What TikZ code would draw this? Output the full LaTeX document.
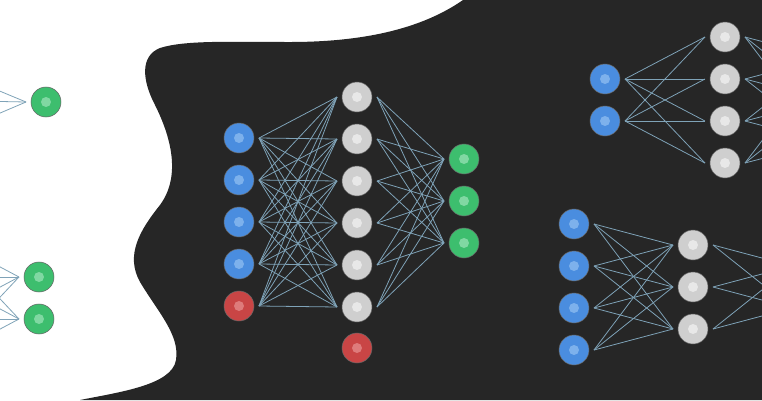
\documentclass[tikz,border=0pt]{standalone}
\usetikzlibrary{calc}
\pgfdeclarelayer{back}\pgfdeclarelayer{edge}
\pgfsetlayers{back,edge,main}
\definecolor{dk}{HTML}{262626}
\definecolor{ed}{HTML}{7FA3B8}
\definecolor{bl}{HTML}{4A8DDF}\definecolor{bli}{HTML}{7DB1EC}
\definecolor{gy}{HTML}{CFCFCF}\definecolor{gyi}{HTML}{E8E8E8}
\definecolor{gn}{HTML}{3DBE6E}\definecolor{gni}{HTML}{80D8A2}
\definecolor{rd}{HTML}{C94545}\definecolor{rdi}{HTML}{DE7B7B}
\tikzset{
 neu/.style n args={2}{circle,minimum size=0.6cm,inner sep=0pt,fill=#1,draw=black!60,line width=0.3pt,
   path picture={\fill[#2] (path picture bounding box.center) circle (0.1cm);}},
 inp/.style={neu={bl}{bli}}, hid/.style={neu={gy}{gyi}}, outn/.style={neu={gn}{gni}}, bias/.style={neu={rd}{rdi}},
 wire/.style={draw=ed,line width=0.45pt}
}
\newcommand{\nnwire}[2]{\draw[wire] ($(#1)+(0.4cm,0)$) -- ($(#2)+(-0.4cm,0)$);}
\begin{document}
\begin{tikzpicture}[x=0.02cm,y=-0.02cm]
\useasboundingbox (0,0) rectangle (762,400);
\begin{pgfonlayer}{back}
\fill[white] (0,0) rectangle (762,400);
\fill[dk] (463,0) .. controls (420,30) and (360,42) .. (290,42)
 .. controls (230,42) and (185,40) .. (160,48)
 .. controls (140,56) and (142,80) .. (155,105)
 .. controls (170,135) and (182,175) .. (160,205)
 .. controls (140,230) and (125,255) .. (140,282)
 .. controls (158,312) and (180,335) .. (176,360)
 .. controls (172,385) and (120,392) .. (80,400)
 -- (762,400) -- (762,0) -- cycle;
\end{pgfonlayer}
% middle network
\foreach \y [count=\i] in {138,180,222,264} \node[inp] (mi\i) at (239,\y) {};
\node[bias] (mi5) at (239,306) {};
\foreach \y [count=\i] in {97,139,181,223,265,307} \node[hid] (mh\i) at (357,\y) {};
\node[bias] (mh7) at (357,348) {};
\foreach \y [count=\i] in {159,201,243} \node[outn] (mo\i) at (464,\y) {};
% top right
\foreach \y [count=\i] in {79,121} \node[inp] (ti\i) at (605,\y) {};
\foreach \y [count=\i] in {37,79,121,163} \node[hid] (th\i) at (725,\y) {};
\foreach \y [count=\i] in {58,100,142} \coordinate (tn\i) at (845,\y);
% bottom right
\foreach \y [count=\i] in {224,266,308,350} \node[inp] (bi\i) at (574,\y) {};
\foreach \y [count=\i] in {245,287,329} \node[hid] (bh\i) at (693,\y) {};
\foreach \y [count=\i] in {266,308} \coordinate (bn\i) at (812,\y);
% left
\node[outn] (lo1) at (46,102) {};
\node[outn] (lo2) at (39,277) {};
\node[outn] (lo3) at (39,319) {};
\foreach \y [count=\i] in {60,100,145} \coordinate (lp\i) at (-95,\y);
\foreach \y [count=\i] in {235,277,319,361} \coordinate (lq\i) at (-80,\y);
\begin{pgfonlayer}{edge}
\foreach \a in {1,...,5}{\foreach \b in {1,...,6}{\nnwire{mi\a}{mh\b}}}
\foreach \a in {1,...,6}{\foreach \b in {1,...,3}{\nnwire{mh\a}{mo\b}}}
\foreach \a in {1,2}{\foreach \b in {1,...,4}{\nnwire{ti\a}{th\b}}}
\foreach \a in {1,...,4}{\foreach \b in {1,...,3}{\nnwire{th\a}{tn\b}}}
\foreach \a in {1,...,4}{\foreach \b in {1,...,3}{\nnwire{bi\a}{bh\b}}}
\foreach \a in {1,...,3}{\foreach \b in {1,2}{\nnwire{bh\a}{bn\b}}}
\foreach \a in {1,2,3}{\nnwire{lp\a}{lo1}}
\foreach \a in {1,...,4}{\nnwire{lq\a}{lo2}\nnwire{lq\a}{lo3}}
\end{pgfonlayer}
\end{tikzpicture}
\end{document}
